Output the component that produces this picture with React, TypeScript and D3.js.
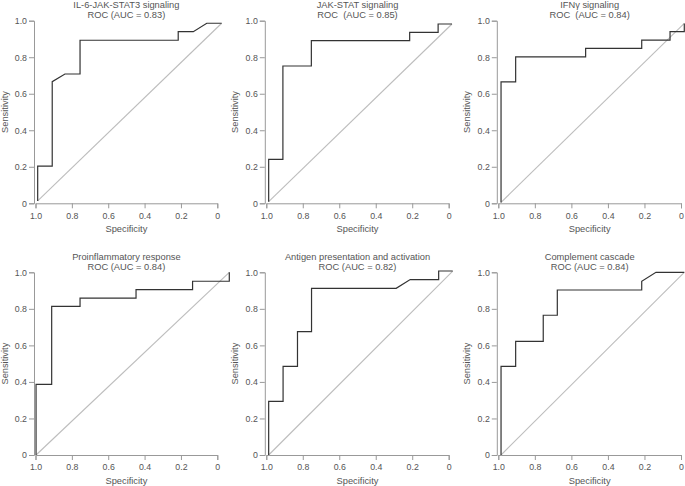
import React, { useRef, useEffect } from "react";
import * as d3 from "d3";

const titles = [
  "IL-6-JAK-STAT3 signaling",
  "JAK-STAT signaling",
  "IFNγ signaling",
  "Proinflammatory response",
  "Antigen presentation and activation",
  "Complement cascade",
];
const aucLabels = [
  "ROC (AUC = 0.83)",
  "ROC  (AUC = 0.85)",
  "ROC  (AUC = 0.84)",
  "ROC (AUC = 0.84)",
  "ROC (AUC = 0.82)",
  "ROC (AUC = 0.84)",
];

const xTicks = [1, 0.8, 0.6, 0.4, 0.2, 0];
const xTickLabels = ["1.0", "0.8", "0.6", "0.4", "0.2", "0"];
const yTicks = [0, 0.2, 0.4, 0.6, 0.8, 1];
const yTickLabels = ["0", "0.2", "0.4", "0.6", "0.8", "1.0"];

// ROC step curves in axis units
const il6Spec = [0.988, 0.988, 0.908, 0.908, 0.838, 0.755, 0.755, 0.215, 0.215, 0.132, 0.058, -0.024];
const il6Sens = [0.013, 0.204, 0.204, 0.666, 0.708, 0.708, 0.893, 0.893, 0.94, 0.94, 0.986, 0.986];
const jakSpec = [0.987, 0.987, 0.909, 0.909, 0.753, 0.753, 0.214, 0.214, 0.058, 0.058, -0.018];
const jakSens = [0.009, 0.241, 0.241, 0.752, 0.752, 0.891, 0.891, 0.936, 0.936, 0.982, 0.982];
const ifnSpec = [0.985, 0.985, 0.905, 0.905, 0.522, 0.522, 0.215, 0.215, 0.06, 0.06, -0.018, -0.018];
const ifnSens = [0.005, 0.665, 0.665, 0.802, 0.802, 0.848, 0.848, 0.894, 0.894, 0.94, 0.94, 0.985];
const proSpec = [0.997, 0.997, 0.911, 0.911, 0.755, 0.755, 0.447, 0.447, 0.136, 0.136, -0.066, -0.066];
const proSens = [0, 0.387, 0.387, 0.814, 0.814, 0.859, 0.859, 0.905, 0.905, 0.951, 0.951, 1.0];
const antSpec = [0.987, 0.987, 0.908, 0.908, 0.829, 0.829, 0.752, 0.752, 0.288, 0.211, 0.055, 0.055, -0.022];
const antSens = [0, 0.294, 0.294, 0.485, 0.485, 0.675, 0.675, 0.912, 0.912, 0.96, 0.96, 1.007, 1.007];
const comSpec = [0.985, 0.985, 0.905, 0.905, 0.754, 0.754, 0.677, 0.677, 0.215, 0.215, 0.137, -0.018];
const comSens = [0, 0.485, 0.485, 0.622, 0.622, 0.765, 0.765, 0.903, 0.903, 0.951, 1.0, 1.0];

// chance diagonal end points per panel [start, end]
const chanceSpec = [[0.988, -0.024], [0.987, -0.018], [0.985, -0.018], [0.997, -0.066], [0.987, -0.022], [0.985, -0.018]];
const chanceSens = [[0.013, 0.986], [0.009, 0.982], [0.005, 0.985], [0, 1.0], [0, 1.007], [0, 1.0]];

const curveSpec = [il6Spec, jakSpec, ifnSpec, proSpec, antSpec, comSpec];
const curveSens = [il6Sens, jakSens, ifnSens, proSens, antSens, comSens];

const W = 685;
const H = 486;
const colX = [[35.5, 217.3], [266.3, 448.7], [498.3, 681]];
const rowY = [[203.3, 20.7], [455, 272.3]];
const font = "'Liberation Sans', Arial, sans-serif";
const textColor = "#555";
const axisColor = "#999";

export default function App() {
  const svgRef = useRef<SVGSVGElement>(null);

  useEffect(() => {
    if (!svgRef.current) return;
    const svg = d3.select(svgRef.current);
    svg.selectAll("*").remove();

    titles.forEach((title, i) => {
      const col = i % 3;
      const row = Math.floor(i / 3);
      const x = d3.scaleLinear().domain([1, 0]).range(colX[col]);
      const y = d3.scaleLinear().domain([0, 1]).range(rowY[row]);
      const g = svg.append("g");

      // X axis
      const xAxis = g
        .append("g")
        .attr("transform", `translate(0,${y(0)})`)
        .call(
          d3
            .axisBottom(x)
            .tickValues(xTicks)
            .tickFormat((_, k) => xTickLabels[k])
            .tickSizeOuter(0)
            .tickSize(5)
            .tickPadding(4)
        );
      xAxis.selectAll("text").style("font-size", "8.8px").style("font-family", font).style("fill", textColor);
      xAxis.selectAll("path, line").style("stroke", axisColor);

      // Y axis
      const yAxis = g
        .append("g")
        .attr("transform", `translate(${x(1) - 1.5},0)`)
        .call(
          d3
            .axisLeft(y)
            .tickValues(yTicks)
            .tickFormat((_, k) => yTickLabels[k])
            .tickSizeOuter(0)
            .tickSize(5)
            .tickPadding(2)
        );
      yAxis.selectAll("text").style("font-size", "8.8px").style("font-family", font).style("fill", textColor);
      yAxis.selectAll("path, line").style("stroke", axisColor);

      // chance line
      const diag = chanceSpec[i].map((s, k) => [s, chanceSens[i][k]] as [number, number]);
      const line = d3
        .line<[number, number]>()
        .x((d) => x(d[0]))
        .y((d) => y(d[1]));
      g.append("path")
        .attr("d", line(diag))
        .attr("fill", "none")
        .attr("stroke", "#bdbdbd")
        .attr("stroke-width", 1.1);

      // ROC curve
      const pts = curveSpec[i].map((s, k) => [s, curveSens[i][k]] as [number, number]);
      g.append("path")
        .attr("d", line(pts))
        .attr("fill", "none")
        .attr("stroke", "#333")
        .attr("stroke-width", 1.2);

      const cx = (x(1) + x(0)) / 2;
      const top = y(1);
      g.append("text")
        .attr("x", cx)
        .attr("y", top - 15.5)
        .attr("text-anchor", "middle")
        .attr("dominant-baseline", "central")
        .style("font-size", "9.3px")
        .style("font-family", font)
        .style("fill", textColor)
        .text(title);
      g.append("text")
        .attr("x", cx)
        .attr("y", top - 5.5)
        .attr("text-anchor", "middle")
        .attr("dominant-baseline", "central")
        .style("font-size", "9.3px")
        .style("font-family", font)
        .style("fill", textColor)
        .style("white-space", "pre")
        .text(aucLabels[i]);

      g.append("text")
        .attr("x", cx)
        .attr("y", y(0) + 26)
        .attr("text-anchor", "middle")
        .attr("dominant-baseline", "central")
        .style("font-size", "9.3px")
        .style("font-family", font)
        .style("fill", textColor)
        .text("Specificity");

      const ly = (y(0) + y(1)) / 2;
      const lx = x(1) - 31;
      g.append("text")
        .attr("transform", `translate(${lx},${ly}) rotate(-90)`)
        .attr("text-anchor", "middle")
        .attr("dominant-baseline", "central")
        .style("font-size", "9.3px")
        .style("font-family", font)
        .style("fill", textColor)
        .text("Sensitivity");
    });
  }, []);

  return (
    <svg
      ref={svgRef}
      width={W}
      height={H}
      style={{ position: "absolute", left: 0, top: 0, background: "#fff" }}
    />
  );
}
